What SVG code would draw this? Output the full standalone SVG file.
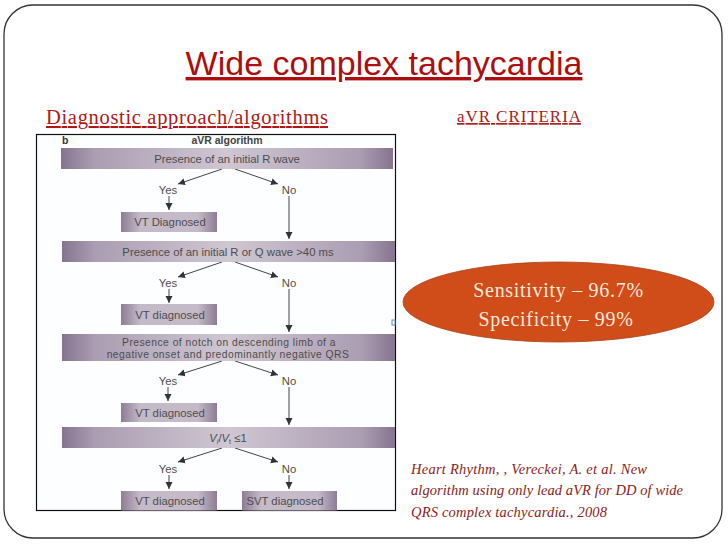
<svg xmlns="http://www.w3.org/2000/svg" width="728" height="546" viewBox="0 0 728 546">
<defs>
<linearGradient id="barFill" x1="0" x2="1" y1="0" y2="0">
<stop offset="0" stop-color="#86748f"/><stop offset="0.1" stop-color="#ab9db2"/><stop offset="0.5" stop-color="#cfc7d2"/><stop offset="0.9" stop-color="#ab9db2"/><stop offset="1" stop-color="#86748f"/>
</linearGradient>
<linearGradient id="boxFill" x1="0" x2="1" y1="0" y2="0">
<stop offset="0" stop-color="#8d7c96"/><stop offset="0.2" stop-color="#c4bac8"/><stop offset="0.8" stop-color="#c4bac8"/><stop offset="1" stop-color="#8d7c96"/>
</linearGradient>
<marker id="head" markerUnits="userSpaceOnUse" markerWidth="8" markerHeight="8" refX="7" refY="4" orient="auto">
<path d="M0 0.5 L7 4 L0 7.5 Z" fill="#333"/>
</marker>
<style>
.bar{fill:url(#barFill)}
.box{fill:url(#boxFill)}
.flow{font-family:"Liberation Sans",Arial,sans-serif;font-size:11.3px;fill:#4d4d4d;text-anchor:middle}
.tight{font-size:10.3px;letter-spacing:.47px}
.conn line{stroke:#444;stroke-width:1;marker-end:url(#head)}
.serif{font-family:"Liberation Serif","Times New Roman",serif}
.cite{font-family:"Liberation Serif","Times New Roman",serif;font-style:italic;font-size:14.5px;fill:#8c1c1c}
.oval{font-family:"Liberation Serif","Times New Roman",serif;font-size:20px;letter-spacing:.7px;fill:#fbe9dc;text-anchor:middle}
</style>
</defs>
<rect width="728" height="546" fill="#fff"/>
<rect id="slide" x="4" y="5" width="718" height="533" rx="29" ry="29" fill="#fff" stroke="#333" stroke-width="1.3"/>

<text id="title" x="384" y="75" font-family="'Liberation Sans',Arial,sans-serif" font-size="34" fill="#ab0f0f" text-anchor="middle" text-decoration="underline">Wide complex tachycardia</text>
<text id="subtitle" class="serif" x="46" y="124" font-size="20.5" fill="#b01818" text-decoration="underline" textLength="282">Diagnostic approach/algorithms</text>
<text id="criteria" class="serif" x="457" y="122" font-size="17" fill="#a82020" text-decoration="underline" textLength="124">aVR CRITERIA</text>

<rect id="frame" x="36.5" y="134.5" width="359" height="376" fill="#fdfeff" stroke="#111" stroke-width="1.2"/>
<rect id="handle" x="392" y="320" width="3" height="5" fill="#fff" stroke="#5b8fc0" stroke-width="1"/>
<text id="fig-letter" x="62" y="144" font-family="'Liberation Sans',Arial,sans-serif" font-size="10.500" font-weight="bold" fill="#333">b</text>
<text id="fig-title" x="227" y="144" font-family="'Liberation Sans',Arial,sans-serif" font-size="10.500" font-weight="bold" fill="#444" text-anchor="middle">aVR algorithm</text>

<g id="connectors" class="conn">
<line x1="222" y1="169" x2="178" y2="184"/>
<line x1="235" y1="169" x2="278" y2="184"/>
<line x1="169" y1="196" x2="169" y2="210"/>
<line x1="289" y1="196" x2="289" y2="239"/>
<line x1="222" y1="262" x2="178" y2="277"/>
<line x1="235" y1="262" x2="278" y2="277"/>
<line x1="169" y1="289" x2="169" y2="303"/>
<line x1="289" y1="289" x2="289" y2="332"/>
<line x1="222" y1="361" x2="178" y2="375"/>
<line x1="235" y1="361" x2="278" y2="375"/>
<line x1="168" y1="387" x2="168" y2="401"/>
<line x1="289" y1="387" x2="289" y2="425"/>
<line x1="222" y1="448" x2="178" y2="462"/>
<line x1="235" y1="448" x2="278" y2="462"/>
<line x1="169" y1="475" x2="169" y2="489"/>
<line x1="289" y1="475" x2="289" y2="489"/>
</g>

<g id="n1"><rect class="bar" x="61" y="148" width="332" height="21"/><text class="flow" x="227" y="163">Presence of an initial R wave</text></g>
<g id="n1-yes"><text class="flow" x="168" y="194">Yes</text></g>
<g id="n1-no"><text class="flow" x="289" y="194">No</text></g>
<g id="n2"><rect class="box" x="121" y="212" width="96" height="20"/><text class="flow" x="170" y="226">VT Diagnosed</text></g>
<g id="n3"><rect class="bar" x="62" y="241" width="333" height="21"/><text class="flow" x="228" y="256">Presence of an initial R or Q wave &gt;40 ms</text></g>
<g id="n3-yes"><text class="flow" x="168" y="287">Yes</text></g>
<g id="n3-no"><text class="flow" x="289" y="287">No</text></g>
<g id="n4"><rect class="box" x="121" y="304" width="96" height="21"/><text class="flow" x="170" y="319">VT diagnosed</text></g>
<g id="n5"><rect class="bar" x="62" y="334" width="333" height="27"/><text class="flow tight" x="229" y="345.500">Presence of notch on descending limb of a</text><text class="flow tight" x="228" y="357.500">negative onset and predominantly negative QRS</text></g>
<g id="n5-yes"><text class="flow" x="168" y="385">Yes</text></g>
<g id="n5-no"><text class="flow" x="289" y="385">No</text></g>
<g id="n6"><rect class="box" x="121" y="403" width="96" height="19"/><text class="flow" x="170" y="417">VT diagnosed</text></g>
<g id="n7"><rect class="bar" x="62" y="427" width="333" height="21"/><text class="flow" x="228" y="442"><tspan font-style="italic">V</tspan><tspan font-size="7" dy="1.5" font-style="italic">i</tspan><tspan dy="-1.5">/</tspan><tspan font-style="italic">V</tspan><tspan font-size="7" dy="1.5">t</tspan><tspan dy="-1.5"> ≤1</tspan></text></g>
<g id="n7-yes"><text class="flow" x="168" y="473">Yes</text></g>
<g id="n7-no"><text class="flow" x="289" y="473">No</text></g>
<g id="n8"><rect class="box" x="121" y="491" width="96" height="19.5"/><text class="flow" x="170" y="504.500">VT diagnosed</text></g>
<g id="n9"><rect class="box" x="242" y="491" width="95" height="19.5"/><text class="flow" x="285" y="504.500">SVT diagnosed</text></g>

<g id="stats">
<ellipse cx="558.500" cy="302" rx="155.500" ry="40" fill="#d04c18" stroke="#a8431c" stroke-width="0.8"/>
<text class="oval" x="558.500" y="297">Sensitivity – 96.7%</text>
<text class="oval" x="556" y="326">Specificity – 99%</text>
</g>

<g id="citation">
<text class="cite" x="411" y="474" textLength="236">Heart Rhythm, , Vereckei, A. et al. New</text>
<text class="cite" x="411" y="495" textLength="272">algorithm using only lead aVR for DD of wide</text>
<text class="cite" x="411" y="517" textLength="196">QRS complex tachycardia., 2008</text>
</g>
</svg>
